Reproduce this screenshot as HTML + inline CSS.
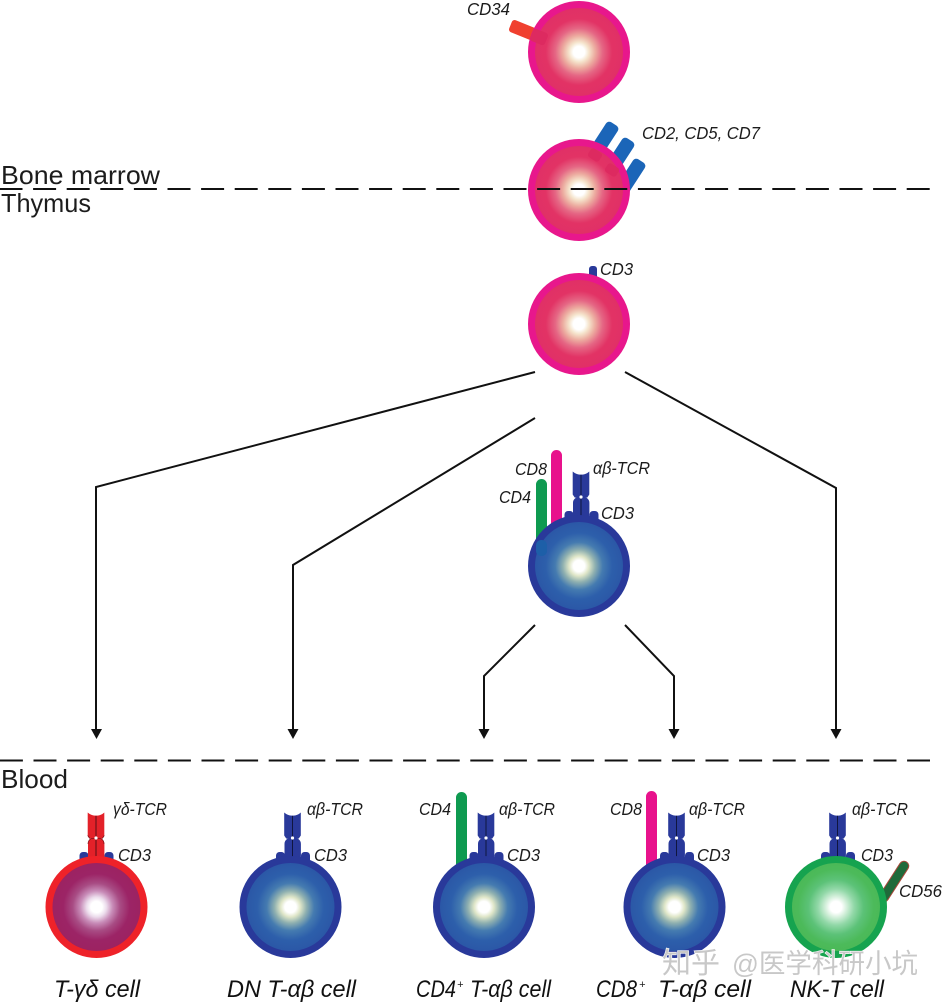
<!DOCTYPE html>
<html><head><meta charset="utf-8">
<style>
html,body{margin:0;padding:0;background:#fff;width:942px;height:1002px;overflow:hidden}
svg{display:block}
text{font-family:"Liberation Sans","Noto Sans CJK SC",sans-serif;fill:#1c1c1c}
.l{font-size:17.5px;font-style:italic}
.t{font-size:24px;font-style:italic;fill:#111}
.h{font-size:26px}
.w{fill:#c8c8c8;stroke:#fff;stroke-width:1.2px;paint-order:stroke}
</style></head><body>
<svg width="942" height="1002" viewBox="0 0 942 1002" xmlns="http://www.w3.org/2000/svg">
<defs>
<radialGradient id="gp"><stop offset="0" stop-color="#fff"/><stop offset=".12" stop-color="#fff"/><stop offset=".21" stop-color="#f5e4cc"/><stop offset=".34" stop-color="#ecaca0"/><stop offset=".5" stop-color="#e56684"/><stop offset=".7" stop-color="#e23365"/><stop offset="1" stop-color="#e02f66"/></radialGradient>
<radialGradient id="gb"><stop offset="0" stop-color="#fff"/><stop offset=".12" stop-color="#fff"/><stop offset=".21" stop-color="#dfe6c8"/><stop offset=".34" stop-color="#8fb0b0"/><stop offset=".5" stop-color="#457bb0"/><stop offset=".7" stop-color="#2d5fab"/><stop offset="1" stop-color="#2a55a5"/></radialGradient>
<radialGradient id="gr"><stop offset="0" stop-color="#fff"/><stop offset=".12" stop-color="#fff"/><stop offset=".21" stop-color="#ecdcec"/><stop offset=".34" stop-color="#c88cb8"/><stop offset=".5" stop-color="#a84c84"/><stop offset=".7" stop-color="#9c2466"/><stop offset="1" stop-color="#9c2260"/></radialGradient>
<radialGradient id="gg"><stop offset="0" stop-color="#fff"/><stop offset=".12" stop-color="#fff"/><stop offset=".22" stop-color="#d5f0dc"/><stop offset=".38" stop-color="#92d8a8"/><stop offset=".58" stop-color="#5cc278"/><stop offset=".8" stop-color="#4cba5a"/><stop offset="1" stop-color="#4ab856"/></radialGradient>
<g id="pc"><circle r="47.5" fill="url(#gp)" stroke="#e8178c" stroke-width="7"/></g>
<g id="bc"><circle r="47.5" fill="url(#gb)" stroke="#29399a" stroke-width="7"/></g>
<g id="bumps" fill="#29399a">
<rect x="-17" y="-12" width="9" height="14" rx="3.500"/>
<rect x="8" y="-12" width="9" height="14" rx="3.500"/>
<rect x="-17" y="-6" width="34" height="9"/>
</g>
<g id="stem">
<path d="M-8.800,-51.500 q4,3.500 8.300,3 q4.500,.5 8.300,-3 v23 l-2,3 q-3,.8 -6.300,.8 q-3.300,0 -6.300,-.8 l-2,-3z"/>
<path d="M-8.500,-20 a6,6 0 0 1 3,-5.300 l3.700,-.3 h3 l3.700,.3 a6,6 0 0 1 3,5.300 v23 h-16.400z"/>
</g>
<g id="tcrb">
<use href="#bumps"/>
<use href="#stem" fill="#29399a"/>
<path d="M-.5,-48 V-27.500 M-.5,-24.500 V-6" stroke="#10163f" stroke-width="1" fill="none"/>
<circle cx="-.5" cy="-26" r="1.600" fill="#fff"/>
</g>
<g id="tcrr">
<use href="#bumps"/>
<use href="#stem" fill="#e32129"/>
<path d="M-.5,-48 V-27.500 M-.5,-24.500 V-6" stroke="#5a1018" stroke-width="1" fill="none"/>
<path d="M-8.500,-20 a6,6 0 0 1 3,-5.300 l3.700,-.3 M7.500,-20 a6,6 0 0 0 -3,-5.300 l-3.700,-.3 M-8.800,-28.500 l2,3 M7.800,-28.500 l-2,3" stroke="#7a1018" stroke-width=".7" fill="none"/>
<circle cx="-.5" cy="-26" r="1.600" fill="#fff"/>
</g>
<path id="ah" d="M-5.500,-10 H5.500 L0,0z" fill="#111"/>
</defs>

<!-- connectors -->
<g fill="none" stroke="#111" stroke-width="2">
<path d="M535,372 L96,487 V732"/>
<path d="M535,418 L293,565 V732"/>
<path d="M625,372 L836,488 V732"/>
<path d="M535,625 L484,676 V732"/>
<path d="M625,625 L674,676 V732"/>
</g>
<use href="#ah" x="96.500" y="739"/>
<use href="#ah" x="293" y="739"/>
<use href="#ah" x="484" y="739"/>
<use href="#ah" x="674" y="739"/>
<use href="#ah" x="836" y="739"/>

<!-- CD34 cell -->
<rect x="-21" y="-6.500" width="42" height="13" rx="3" transform="translate(530,33) rotate(22)" fill="#f0402f"/>
<use href="#pc" x="579" y="52"/>
<rect x="-8" y="-6.500" width="16" height="13" rx="3" transform="translate(539,37) rotate(22)" fill="#dd2a60"/>

<!-- CD2 CD5 CD7 cell -->
<g fill="#1b65b8">
<rect x="-7" y="0" width="14" height="45" rx="4" transform="translate(614,124) rotate(33)"/>
<rect x="-7" y="0" width="14" height="45" rx="4" transform="translate(630,140) rotate(33)"/>
<rect x="-7" y="0" width="14" height="36" rx="4" transform="translate(641,161) rotate(33)"/>
</g>
<use href="#pc" x="579" y="190"/>
<g fill="#dd2a60">
<rect x="-6.500" y="-5" width="13" height="10" rx="3" transform="translate(595,155) rotate(33)"/>
<rect x="-6.500" y="-5" width="13" height="10" rx="3" transform="translate(612,170) rotate(33)"/>
</g>

<!-- CD3 cell -->
<rect x="589" y="266" width="8" height="16" rx="3" fill="#29399a"/>
<use href="#pc" x="579" y="324"/>

<!-- DP cell -->
<rect x="551" y="450" width="11" height="90" rx="5.500" fill="#e8128c"/>
<rect x="536" y="479" width="11" height="90" rx="5.500" fill="#0e9a50"/>
<use href="#tcrb" x="581.500" y="523"/>
<use href="#bc" x="579" y="566"/>
<rect x="536" y="540" width="11" height="16" rx="5" fill="#1d5fa8"/>

<!-- dashed lines -->
<path d="M-.5,189 H930" stroke="#111" stroke-width="2" stroke-dasharray="23 10.6" fill="none"/>
<path d="M-.1,760.500 H930" stroke="#111" stroke-width="2" stroke-dasharray="23 10.6" fill="none"/>

<!-- bottom cells -->
<use href="#tcrr" x="96.500" y="864"/>
<circle cx="96.500" cy="907" r="47.500" fill="url(#gr)" stroke="#ee2229" stroke-width="7"/>

<use href="#tcrb" x="293" y="864"/>
<use href="#bc" x="290.500" y="907"/>

<rect x="456" y="792" width="11" height="90" rx="5.500" fill="#0e9a50"/>
<use href="#tcrb" x="486.500" y="864"/>
<use href="#bc" x="484" y="907"/>

<rect x="646" y="791" width="11" height="90" rx="5.500" fill="#e8128c"/>
<use href="#tcrb" x="677" y="864"/>
<use href="#bc" x="674.500" y="907"/>

<path d="M904,866 L884,897" stroke="#a8483a" stroke-width="10.500" stroke-linecap="round"/>
<path d="M904,866 L884,897" stroke="#1f6a3a" stroke-width="8.500" stroke-linecap="round"/>
<use href="#tcrb" x="838" y="864"/>
<circle cx="836" cy="907" r="47.500" fill="url(#gg)" stroke="#16a34f" stroke-width="7"/>

<!-- labels -->
<text class="l" x="467" y="15" textLength="43" lengthAdjust="spacingAndGlyphs">CD34</text>
<text class="l" x="642" y="139" textLength="118" lengthAdjust="spacingAndGlyphs">CD2, CD5, CD7</text>
<text class="h" x="1" y="184" textLength="159" lengthAdjust="spacingAndGlyphs">Bone marrow</text>
<text class="h" x="1" y="212" textLength="90" lengthAdjust="spacingAndGlyphs">Thymus</text>
<text class="l" x="600" y="275" textLength="33" lengthAdjust="spacingAndGlyphs">CD3</text>
<text class="l" x="515" y="475" textLength="32" lengthAdjust="spacingAndGlyphs">CD8</text>
<text class="l" x="593" y="474" textLength="57" lengthAdjust="spacingAndGlyphs">αβ-TCR</text>
<text class="l" x="499" y="503" textLength="32" lengthAdjust="spacingAndGlyphs">CD4</text>
<text class="l" x="601" y="519" textLength="33" lengthAdjust="spacingAndGlyphs">CD3</text>
<text class="h" x="1" y="788" textLength="67" lengthAdjust="spacingAndGlyphs">Blood</text>

<text class="l" x="113" y="815" textLength="54" lengthAdjust="spacingAndGlyphs">γδ-TCR</text>
<text class="l" x="118" y="861" textLength="33" lengthAdjust="spacingAndGlyphs">CD3</text>
<text class="l" x="307" y="815" textLength="56" lengthAdjust="spacingAndGlyphs">αβ-TCR</text>
<text class="l" x="314" y="861" textLength="33" lengthAdjust="spacingAndGlyphs">CD3</text>
<text class="l" x="419" y="815" textLength="32" lengthAdjust="spacingAndGlyphs">CD4</text>
<text class="l" x="499" y="815" textLength="56" lengthAdjust="spacingAndGlyphs">αβ-TCR</text>
<text class="l" x="507" y="861" textLength="33" lengthAdjust="spacingAndGlyphs">CD3</text>
<text class="l" x="610" y="815" textLength="32" lengthAdjust="spacingAndGlyphs">CD8</text>
<text class="l" x="689" y="815" textLength="56" lengthAdjust="spacingAndGlyphs">αβ-TCR</text>
<text class="l" x="697" y="861" textLength="33" lengthAdjust="spacingAndGlyphs">CD3</text>
<text class="l" x="852" y="815" textLength="56" lengthAdjust="spacingAndGlyphs">αβ-TCR</text>
<text class="l" x="861" y="861" textLength="32" lengthAdjust="spacingAndGlyphs">CD3</text>
<text class="l" x="899" y="897" textLength="43" lengthAdjust="spacingAndGlyphs">CD56</text>

<!-- watermark -->
<text class="w" x="662" y="973" font-size="29" textLength="58" lengthAdjust="spacingAndGlyphs">知乎</text>
<text class="w" x="732" y="973" font-size="27" textLength="186" lengthAdjust="spacingAndGlyphs">@医学科研小坑</text>

<text class="t" x="54" y="997" textLength="86" lengthAdjust="spacingAndGlyphs">T-γδ cell</text>
<text class="t" x="227" y="997" textLength="129" lengthAdjust="spacingAndGlyphs">DN T-αβ cell</text>
<text class="t" x="416" y="997" textLength="40" lengthAdjust="spacingAndGlyphs">CD4</text>
<text x="457" y="988" font-size="11" font-style="italic">+</text>
<text class="t" x="470" y="997" textLength="81" lengthAdjust="spacingAndGlyphs">T-αβ cell</text>
<text class="t" x="596" y="997" textLength="41" lengthAdjust="spacingAndGlyphs">CD8</text>
<text x="639" y="988" font-size="11" font-style="italic">+</text>
<text class="t" x="658" y="997" textLength="93" lengthAdjust="spacingAndGlyphs">T-αβ cell</text>
<text class="t" x="790" y="997" textLength="94" lengthAdjust="spacingAndGlyphs">NK-T cell</text>
</svg>
</body></html>
